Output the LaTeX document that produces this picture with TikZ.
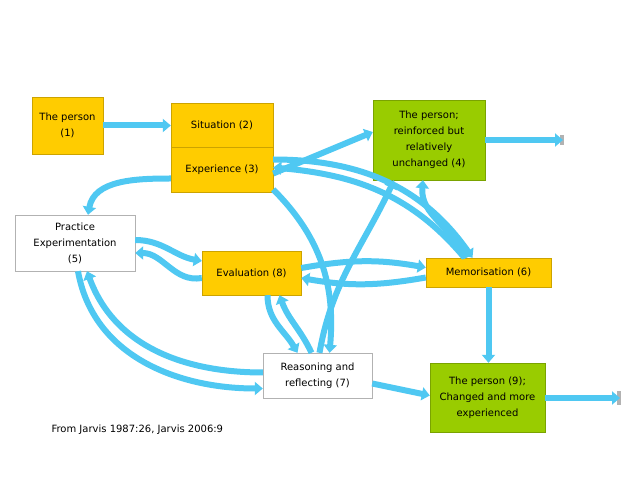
\documentclass[tikz,border=0pt]{standalone}
\usepackage{fontspec}
\setmainfont{DejaVu Sans}
\usetikzlibrary{arrows.meta}
\definecolor{boxorange}{HTML}{FFCC00}
\definecolor{boxgreen}{HTML}{99CC00}
\definecolor{flow}{HTML}{4FC8F2}
\tikzset{
	box/.style={draw=#1!80!black, fill=#1, align=center, font=\fontsize{10}{16}\selectfont, inner sep=2pt},
	plain/.style={draw=black!30, fill=white, align=center, font=\fontsize{10}{16}\selectfont, inner sep=2pt},
	flowarrow/.style={draw=flow, line width=6pt, -{Triangle[length=8pt,width=13pt]}},
}
\begin{document}
\begin{tikzpicture}[x=1pt,y=-1pt]
	\useasboundingbox (0,0) rectangle (638,478);
	\fill[white] (0,0) rectangle (638,478);

	\coordinate (end4) at (563,140);
	\coordinate (end9) at (620,398);
	\fill[black!30] (560,135) rectangle (564,145);
	\fill[black!30] (617,391) rectangle (621,405);

	\node[box=boxorange, minimum width=71pt, minimum height=57pt] (1) at (67.5,125.5) {The person\\(1)};
	\node[box=boxorange, minimum width=102pt, minimum height=44pt] (2) at (222,125) {Situation (2)};
	\node[box=boxorange, minimum width=102pt, minimum height=45pt] (3) at (222,169.5) {Experience (3)};
	\node[box=boxgreen, minimum width=112pt, minimum height=80pt] (4) at (429,140) {The person;\\reinforced but\\relatively\\unchanged (4)};
	\node[plain, minimum width=120pt, minimum height=56pt] (5) at (75,243) {Practice\\Experimentation\\(5)};
	\node[box=boxorange, minimum width=99pt, minimum height=44pt] (8) at (251.5,273) {Evaluation (8)};
	\node[box=boxorange, minimum width=125pt, minimum height=29pt] (6) at (488.5,272.5) {Memorisation (6)};
	\node[plain, minimum width=109pt, minimum height=45pt] (7) at (317.5,375.5) {Reasoning and\\reflecting (7)};
	\node[box=boxgreen, minimum width=115pt, minimum height=69pt] (9) at (487.5,397.5) {The person (9);\\Changed and more\\experienced};
	\node[font=\fontsize{10}{12}\selectfont, anchor=west] (src) at (48,430) {From Jarvis 1987:26, Jarvis 2006:9};

	\draw[flowarrow] (1.east) -- (2.west |- 1.east);
	\draw[flowarrow] (4.east) -- (end4);
	\draw[flowarrow] (9.east |- end9) -- (end9);
	\draw[flowarrow] ([yshift=-4pt]3.east) -- ([yshift=8pt]4.west);
	\draw[flowarrow] ([yshift=-9pt]3.west) to[out=180,in=80] ([xshift=13pt]5.north);
	\draw[flowarrow] ([yshift=3pt]5.east) to[out=0,in=170] ([yshift=12pt]8.west);
	\draw[flowarrow] ([yshift=-5pt]8.west) to[out=190,in=0] ([yshift=-10pt]5.east);
	\draw[flowarrow] ([yshift=5pt]8.east) to[out=10,in=170] ([yshift=5pt]6.west);
	\draw[flowarrow] ([yshift=-5pt]6.west) to[out=190,in=-10] ([yshift=-5pt]8.east);
	\draw[flowarrow] ([yshift=10pt]3.east) to[out=0,in=125] ([xshift=-16pt]6.north);
	\draw[flowarrow] ([xshift=-24pt]6.north) to[out=130,in=-5] ([yshift=2pt]3.east);
	\draw[flowarrow] ([xshift=-22pt]6.north) to[out=115,in=-95] ([xshift=-6pt]4.south);
	\draw[flowarrow] (6.south) -- (9.north -| 6.south);
	\draw[flowarrow] ([yshift=-20pt]3.east) to[out=-45,in=85] ([xshift=12pt]7.north);
	\draw[flowarrow] ([xshift=2pt]7.north) to[out=80,in=-115] ([xshift=-35pt]4.south);
	\draw[flowarrow] ([xshift=16pt]8.south) to[out=-90,in=120] ([xshift=-20pt]7.north);
	\draw[flowarrow] ([xshift=-6pt]7.north) to[out=115,in=-70] ([xshift=28pt]8.south);
	\draw[flowarrow] ([yshift=3pt]7.west) to[out=180,in=-70] ([xshift=12pt]5.south);
	\draw[flowarrow] ([xshift=3pt]5.south) to[out=-80,in=180] ([yshift=-13pt]7.west);
	\draw[flowarrow] ([yshift=-8pt]7.east) -- ([yshift=2pt]9.west);
\end{tikzpicture}
\end{document}
